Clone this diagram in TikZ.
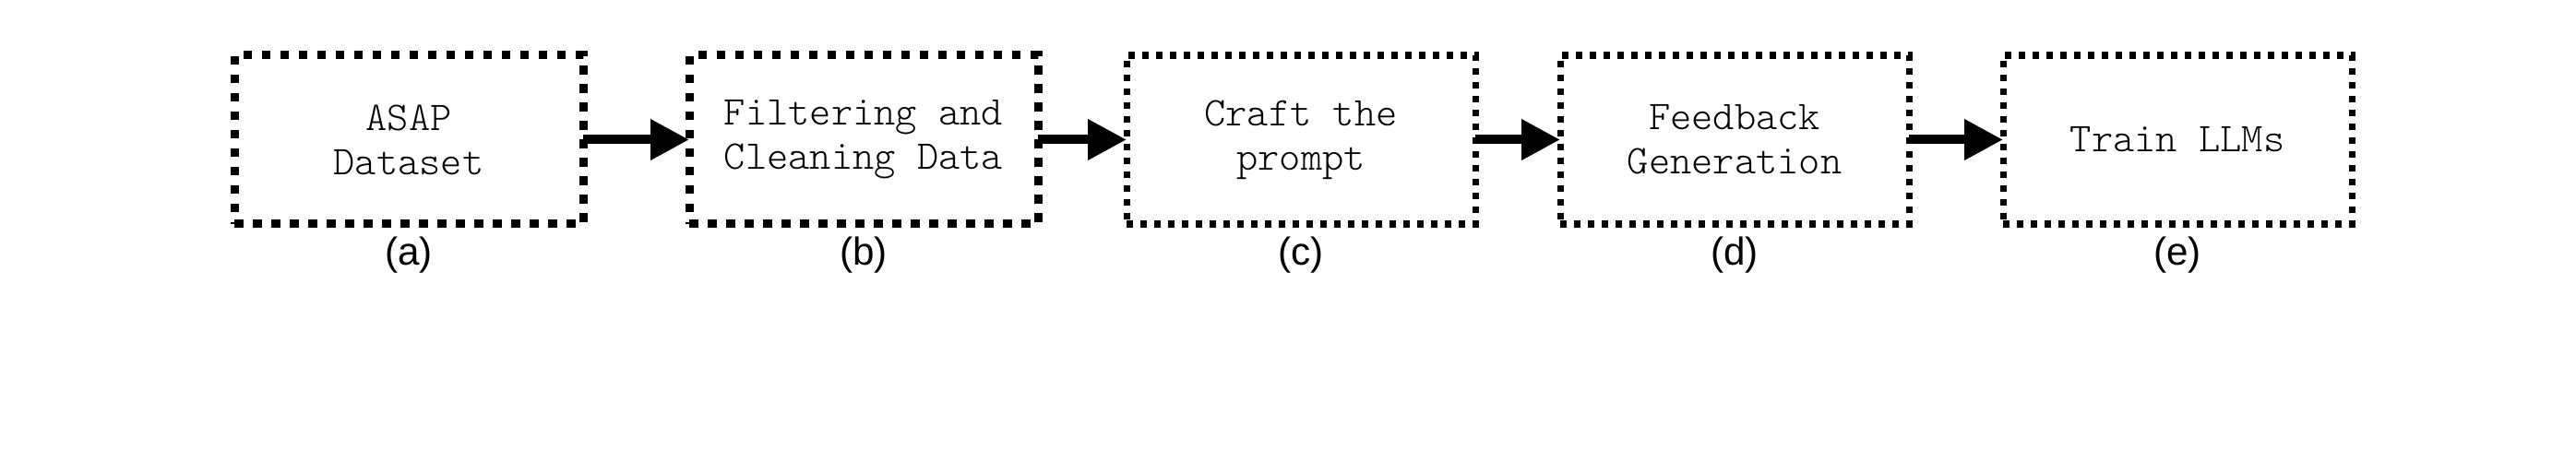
\documentclass[tikz,border=0pt]{standalone}
\usepackage{fontspec}
\setmainfont{Liberation Sans}
\usetikzlibrary{arrows.meta}
\tikzset{
	stage/.style={draw, line cap=butt, minimum width=3.78cm, minimum height=1.83cm,
			inner sep=0pt, outer sep=0pt, align=center,
			font=\fontfamily{lmtt}\fontseries{l}\fontsize{12.6}{13.7}\selectfont},
	thickdots/.style={stage, line width=2.56pt, dash pattern=on 0.095cm off 0.105cm},
	thindots/.style={stage, line width=2pt, dash pattern=on 0.07cm off 0.08cm},
	tag/.style={font=\fontsize{12}{14}\selectfont, inner sep=0pt},
	flow/.style={line width=2.85pt, -{Triangle[length=4.2mm, width=4.2mm]}}
}

\begin{document}
\begin{tikzpicture}
		\useasboundingbox (0,0) rectangle (27.92,5);
		\node[thickdots] (asap) at (4.43,3.485) {ASAP\\Dataset};
		\node[thickdots] (clean) at (9.36,3.485) {Filtering and\\Cleaning Data};
		\node[thindots] (prompt) at (14.10,3.485) {Craft the\\prompt};
		\node[thindots] (feedback) at (18.80,3.485) {Feedback\\Generation};
		\node[thindots] (train) at (23.60,3.485) {Train LLMs};
		\node[tag] (la) at (4.43,2.23) {(a)};
		\node[tag] (lb) at (9.36,2.23) {(b)};
		\node[tag] (lc) at (14.10,2.23) {(c)};
		\node[tag] (ld) at (18.80,2.23) {(d)};
		\node[tag] (le) at (23.60,2.23) {(e)};
		\draw[flow] (asap) -- (clean);
		\draw[flow] (clean) -- (prompt);
		\draw[flow] (prompt) -- (feedback);
		\draw[flow] (feedback) -- (train);
	\end{tikzpicture}
\end{document}
